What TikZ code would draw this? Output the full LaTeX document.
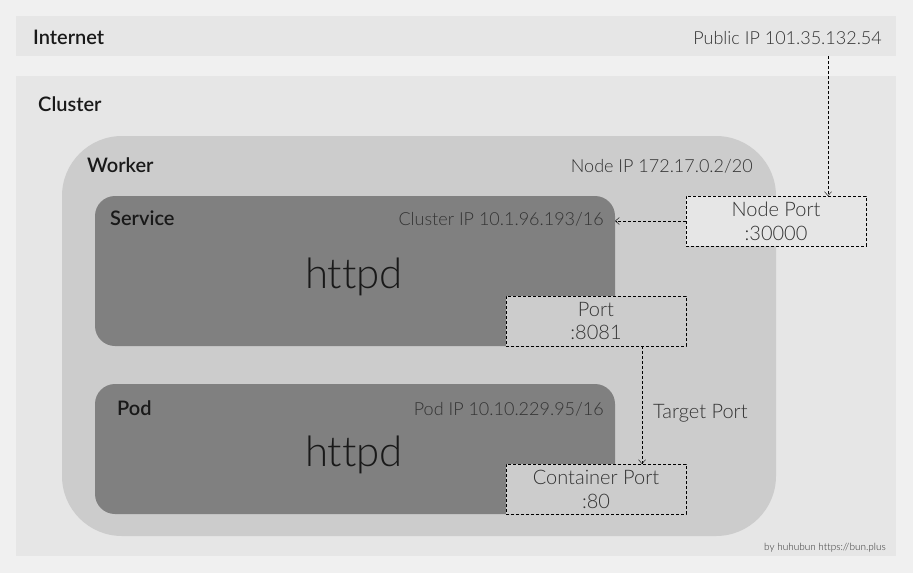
\documentclass[tikz,border=0pt]{standalone}
\usepackage{fontspec}
\setmainfont{Lato}
\newfontfamily\lightfont[Ligatures=CommonOff]{Lato Light}
\newfontfamily\titlefont{Lato Semibold}
\usetikzlibrary{arrows.meta}
\definecolor{bgc}{HTML}{F0F0F0}
\definecolor{zonec}{HTML}{E6E6E6}
\definecolor{workerc}{HTML}{CCCCCC}
\definecolor{objc}{HTML}{808080}
\definecolor{txtc}{HTML}{333333}
\begin{document}
\begin{tikzpicture}[x=1pt,y=-1pt,
	box/.style={rectangle,inner sep=0pt,outer sep=0pt},
	zone/.style={box,fill=zonec},
	worker/.style={box,fill=workerc,rounded corners=60pt},
	obj/.style={box,fill=objc,rounded corners=20pt},
	portbox/.style={box,draw=black,thin,dash pattern=on 3pt off 2pt,minimum width=180pt,minimum height=50pt,
		align=center,text=txtc,font=\lightfont\fontsize{20}{24}\selectfont},
	title/.style={anchor=base west,inner sep=0pt,text=black!90,font=\titlefont\fontsize{20}{22}\selectfont},
	info/.style={anchor=base east,inner sep=0pt,text=txtc,font=\lightfont\fontsize{18}{22}\selectfont},
	app/.style={inner sep=0pt,anchor=base,text=black!90,font=\lightfont\fontsize{42}{44}\selectfont},
	link/.style={draw=black,thin,dash pattern=on 3pt off 2pt,-{Straight Barb[length=4pt,width=7pt]}}]
	\useasboundingbox[fill=bgc] (0,0) rectangle (913,573);
	% zones
	\node[zone,minimum width=880pt,minimum height=40pt] (internet) at (456,36) {};
	\node[zone,minimum width=880pt,minimum height=480pt] (cluster) at (456,316) {};
	\node[worker,minimum width=714pt,minimum height=400pt] (worker) at (419,336) {};
	\node[obj,minimum width=520pt,minimum height=150pt] (service) at (355,271) {};
	\node[obj,minimum width=520pt,minimum height=130pt] (pod) at (355,449) {};
	% ports
	\node[portbox,fill=workerc] (port) at (596,321) {Port\\:8081};
	\node[portbox,fill=workerc] (cport) at (596,489) {Container Port\\:80};
	\node[portbox,fill=zonec] (nodeport) at (776,221) {Node Port\\:30000};
	% labels
	\node[title] (internettitle) at (33,44) {Internet};
	\node[info] (publicip) at (882,44) {Public IP 101.35.132.54};
	\node[title] (clustertitle) at (38,111) {Cluster};
	\node[title] (workertitle) at (87,172) {Worker};
	\node[info] (nodeip) at (753,172) {Node IP 172.17.0.2/20};
	\node[title] (servicetitle) at (110,225) {Service};
	\node[info] (clusterip) at (604,225) {Cluster IP 10.1.96.193/16};
	\node[app] (servicename) at (354,288) {httpd};
	\node[title] (podtitle) at (117,415) {Pod};
	\node[info] (podip) at (604,415) {Pod IP 10.10.229.95/16};
	\node[app] (podname) at (354,466) {httpd};
	\node[info,anchor=base west,font=\lightfont\fontsize{20}{22}\selectfont] (targetport) at (653,418) {Target Port};
	\node[info,text=black!80,font=\lightfont\fontsize{10}{12}\selectfont] (credit) at (886,550) {by huhubun https://bun.plus};
	% connectors
	\coordinate (pubtap) at (828,56);
	\draw[link] (pubtap) -- (pubtap |- nodeport.north);
	\draw[link] (nodeport.west) -- (nodeport.west -| service.east);
	\draw[link] ([xshift=46pt]port.south) -- ([xshift=46pt]cport.north);
\end{tikzpicture}
\end{document}
